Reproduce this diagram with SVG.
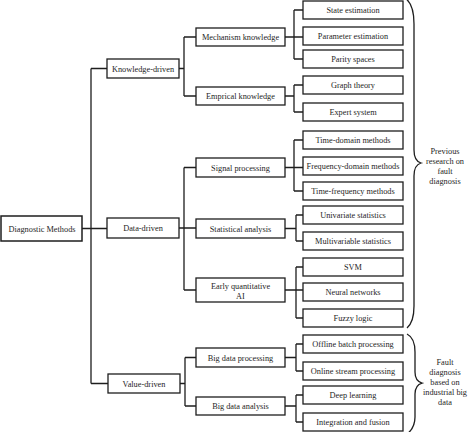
<svg xmlns="http://www.w3.org/2000/svg" width="474" height="432" viewBox="0 0 474 432">
<style>
rect{fill:#fff;stroke:#1e1e1e;stroke-width:1.3}
text{font-family:"Liberation Serif","Times New Roman",serif;font-size:8.3px;fill:#1e1e1e;text-anchor:middle}
.c{fill:none;stroke:#1e1e1e;stroke-width:1.3}
</style>
<rect x="0" y="0" width="474" height="432" style="stroke:none"/>
<g id="connectors" class="c">
<path d="M82,228.5H107M91,68.5V383.5M91,68.5H107M91,383.5H108"/>
<path d="M179,68.5H184M184,37V96M184,37H196M184,96H196"/>
<path d="M179,228H196M184,167.5V290M184,167.5H196M184,290H196"/>
<path d="M180,383.5H185M185,357.5V406M185,357.5H196M185,406H196"/>
<path d="M285,37H303M294,10V59M294,10H303M294,59H303"/>
<path d="M285,96H294M294,85V112M294,85H303M294,112H303"/>
<path d="M285,167.5H303M294,140V191M294,140H303M294,191H303"/>
<path d="M285,228.5H296M296,215V241M296,215H303M296,241H303"/>
<path d="M285,290H303M296,267V318M296,267H303M296,318H303"/>
<path d="M285,357.5H296M296,344V371M296,344H303M296,371H303"/>
<path d="M285,406H296M296,395V422M296,395H303M296,422H303"/>
</g>
<g id="root"><rect x="1" y="216" width="81" height="25" style="stroke-width:1.5"/><text x="42" y="231.5">Diagnostic Methods</text></g>
<g id="knowledge-driven"><rect x="107" y="59" width="72" height="19"/><text x="143" y="71.5">Knowledge-driven</text></g>
<g id="data-driven"><rect x="107" y="218" width="72" height="20"/><text x="143" y="231">Data-driven</text></g>
<g id="value-driven"><rect x="108" y="374" width="72" height="19"/><text x="144" y="386.5">Value-driven</text></g>
<g id="mechanism"><rect x="196" y="28" width="89" height="18"/><text x="240.5" y="40">Mechanism knowledge</text></g>
<g id="emprical"><rect x="196" y="87" width="89" height="18"/><text x="240.5" y="99">Emprical knowledge</text></g>
<g id="signal"><rect x="196" y="158" width="89" height="19"/><text x="240.5" y="170.5">Signal processing</text></g>
<g id="statistical"><rect x="196" y="219" width="89" height="19"/><text x="240.5" y="231.5">Statistical analysis</text></g>
<g id="early-ai"><rect x="196" y="278" width="89" height="24"/><text x="240.5" y="289">Early quantitative</text><text x="240.5" y="298.5">AI</text></g>
<g id="bigdata-processing"><rect x="196" y="348" width="89" height="19"/><text x="240.5" y="360.5">Big data processing</text></g>
<g id="bigdata-analysis"><rect x="196" y="397" width="89" height="18"/><text x="240.5" y="409">Big data analysis</text></g>
<g id="state"><rect x="303" y="1" width="100" height="18"/><text x="353" y="13">State estimation</text></g>
<g id="parameter"><rect x="303" y="27" width="100" height="18"/><text x="353" y="39">Parameter estimation</text></g>
<g id="parity"><rect x="303" y="50" width="100" height="18"/><text x="353" y="62">Parity spaces</text></g>
<g id="graph"><rect x="303" y="76" width="100" height="18"/><text x="353" y="88">Graph theory</text></g>
<g id="expert"><rect x="303" y="103" width="100" height="18"/><text x="353" y="115">Expert system</text></g>
<g id="time-domain"><rect x="303" y="131" width="100" height="18"/><text x="353" y="143">Time-domain methods</text></g>
<g id="frequency-domain"><rect x="303" y="157" width="100" height="18"/><text x="353" y="169">Frequency-domain methods</text></g>
<g id="time-frequency"><rect x="303" y="182" width="100" height="18"/><text x="353" y="194">Time-frequency methods</text></g>
<g id="univariate"><rect x="303" y="206" width="100" height="18"/><text x="353" y="218">Univariate statistics</text></g>
<g id="multivariable"><rect x="303" y="232" width="100" height="18"/><text x="353" y="244">Multivariable statistics</text></g>
<g id="svm"><rect x="303" y="258" width="100" height="18"/><text x="353" y="270">SVM</text></g>
<g id="neural"><rect x="303" y="283" width="100" height="18"/><text x="353" y="295">Neural networks</text></g>
<g id="fuzzy"><rect x="303" y="309" width="100" height="18"/><text x="353" y="321">Fuzzy logic</text></g>
<g id="offline"><rect x="303" y="335" width="100" height="18"/><text x="353" y="347">Offline batch processing</text></g>
<g id="online"><rect x="303" y="362" width="100" height="18"/><text x="353" y="374">Online stream processing</text></g>
<g id="deep"><rect x="303" y="386" width="100" height="18"/><text x="353" y="398">Deep learning</text></g>
<g id="integration"><rect x="303" y="413" width="100" height="18"/><text x="353" y="425">Integration and fusion</text></g>
<g id="brace-previous">
<path class="c" d="M405,-2Q414,4 414,24L414,150Q414,161 421,163Q414,165 414,176L414,306Q414,322 407,328"/>
<text x="445" y="154">Previous</text><text x="445" y="164">research on</text><text x="445" y="174">fault</text><text x="445" y="184">diagnosis</text>
</g>
<g id="brace-bigdata">
<path class="c" d="M407,334Q415,338 415,352L415,372Q415,381 422,383Q415,385 415,394L415,417Q415,428 407,434"/>
<text x="445" y="365">Fault</text><text x="445" y="375">diagnosis</text><text x="445" y="385">based on</text><text x="445" y="395">industrial big</text><text x="445" y="405">data</text>
</g>
</svg>
